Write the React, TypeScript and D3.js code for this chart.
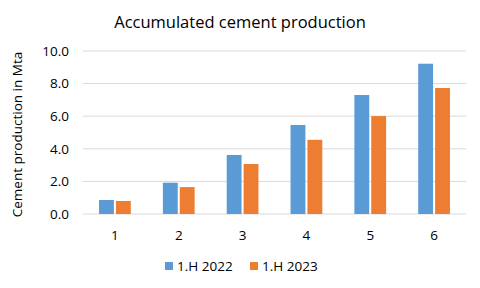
import React from "react";
import * as d3 from "d3";

const categories = ["1", "2", "3", "4", "5", "6"];
const seriesNames = ["1.H 2022", "1.H 2023"];
const values2022 = [0.86, 1.92, 3.62, 5.46, 7.3, 9.22];
const values2023 = [0.8, 1.65, 3.07, 4.55, 6.01, 7.73];
const yTicks = [0, 2, 4, 6, 8, 10];
const colors = ["#5b9bd5", "#ed7d31"];

const App: React.FC = () => {
  const width = 480;
  const height = 288;
  const margin = { top: 51, right: 14, bottom: 74, left: 83 };
  const font = "Open Sans, Liberation Sans, sans-serif";

  const x = d3
    .scaleBand<string>()
    .domain(categories)
    .range([margin.left, width - margin.right])
    .paddingInner(0)
    .paddingOuter(0);

  const inner = d3
    .scaleBand<number>()
    .domain([0, 1])
    .range([0, x.bandwidth()])
    .paddingInner(0.12)
    .paddingOuter(0.95);

  const y = d3
    .scaleLinear()
    .domain([0, 10])
    .range([height - margin.bottom, margin.top]);

  const series = [values2022, values2023];

  return (
    <svg
      width={width}
      height={height}
      style={{ position: "absolute", left: 0, top: 0, background: "#fff" }}
      fontFamily={font}
    >
      <rect width={width} height={height} fill="#fff" />
      <text x={240} y={28} textAnchor="middle" fontSize={16.5} fill="#000">
        Accumulated cement production
      </text>

      {/* grid + y labels */}
      {yTicks.map((t) => (
        <g key={t}>
          <line
            x1={margin.left}
            x2={width - margin.right}
            y1={y(t)}
            y2={y(t)}
            stroke="#d9d9d9"
            strokeWidth={1}
          />
          <text
            x={69}
            y={y(t)}
            dy="0.35em"
            textAnchor="end"
            fontSize={13.5}
            fill="#000"
          >
            {t.toFixed(1)}
          </text>
        </g>
      ))}

      {/* bars */}
      {categories.map((c, i) => (
        <g key={c} transform={`translate(${x(c)},0)`}>
          {series.map((s, j) => (
            <rect
              key={j}
              x={inner(j)}
              y={y(s[i])}
              width={inner.bandwidth()}
              height={y(0) - y(s[i])}
              fill={colors[j]}
            />
          ))}
          <text
            x={x.bandwidth() / 2}
            y={y(0) + 21}
            dy="0.35em"
            textAnchor="middle"
            fontSize={13.5}
            fill="#000"
          >
            {c}
          </text>
        </g>
      ))}

      {/* y axis title */}
      <text
        transform={`translate(22,${(y(0) + y(10)) / 2 + 2}) rotate(-90)`}
        textAnchor="middle"
        fontSize={13.5}
        fill="#000"
      >
        Cement production  in Mta
      </text>

      {/* legend */}
      {seriesNames.map((name, j) => (
        <g key={name} transform={`translate(${165 + j * 85},266)`}>
          <rect x={0} y={-4} width={8} height={8} fill={colors[j]} />
          <text x={12} y={0} dy="0.35em" fontSize={13.5} fill="#000">
            {name}
          </text>
        </g>
      ))}
    </svg>
  );
};

export default App;
